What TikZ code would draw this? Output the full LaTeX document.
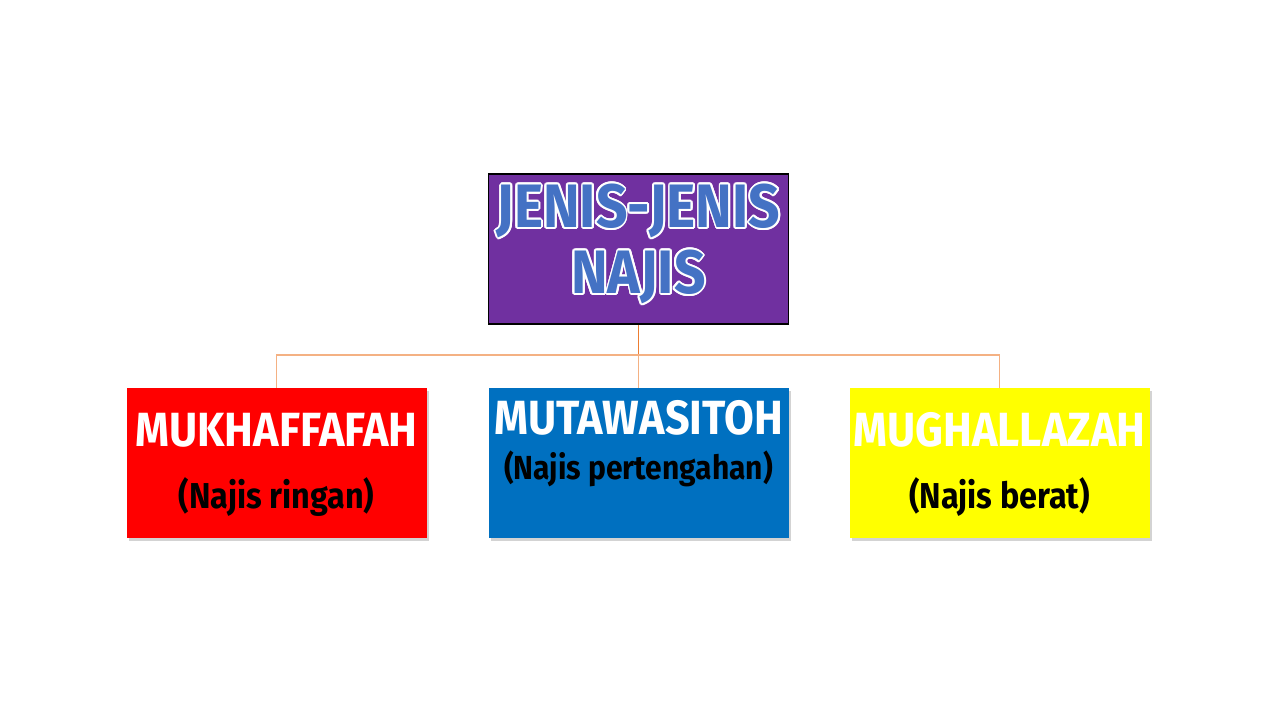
\documentclass[tikz,border=0pt]{standalone}
\usepackage{fontspec}
\setmainfont{Fira Sans}
\newfontfamily\narrowfont{Fira Sans}[FakeStretch=0.9]
\usepackage[copies]{contour}
\contourlength{1.4pt}
\usetikzlibrary{shadows}

\definecolor{najispurple}{HTML}{7030A0}
\definecolor{najisred}{HTML}{FF0000}
\definecolor{najisblue}{HTML}{0070C0}
\definecolor{najisyellow}{HTML}{FFFF00}
\definecolor{titleblue}{HTML}{4472C4}
\definecolor{linkorange}{HTML}{F4B183}
\definecolor{stemorange}{HTML}{ED7D31}

\begin{document}
\begin{tikzpicture}[
        x=0.75pt, y=-0.75pt,
        plain box/.style={
            minimum width=225pt,
            minimum height=112.5pt,
            inner sep=0pt
        },
        box/.style={
            plain box,
            drop shadow={opacity=0.35, shadow xshift=2pt, shadow yshift=-2pt}
        },
        name text/.style={
            white,
            font=\narrowfont\bfseries\fontsize{36}{40}\selectfont
        },
        sub text/.style={
            black,
            font=\narrowfont\bfseries\fontsize{27}{30}\selectfont
        },
        link/.style={linkorange, line width=0.8pt}
    ]

    \useasboundingbox (0,0) rectangle (1280,720);

    % title
    \node[plain box, fill=najispurple, draw=black, line width=1.2pt]
        (title) at (638.5,249) {};
    \node[
            align=center,
            text=titleblue,
            font=\narrowfont\bfseries\fontsize{46}{49.5}\selectfont
        ]
        (title-text) at (638.5,245)
        {\contour{white}{JENIS-JENIS}\\\contour{white}{NAJIS}};

    % boxes
    \node[box, fill=najisred] (mukh) at (276.5,463) {};
    \node[box, fill=najisblue] (muta) at (638.5,463) {};
    \node[box, fill=najisyellow] (mugh) at (999.5,463) {};

    % labels
    \node[name text] (mukh-name) at (276.5,430) {MUKHAFFAFAH};
    \node[sub text] (mukh-sub) at (276.5,497) {(Najis ringan)};

    \node[name text] (muta-name) at (638.5,418) {MUTAWASITOH};
    \node[sub text, font=\narrowfont\bfseries\fontsize{25}{28}\selectfont]
        (muta-sub) at (638.5,469) {(Najis pertengahan)};

    \node[name text] (mugh-name) at (999.5,430) {MUGHALLAZAH};
    \node[sub text] (mugh-sub) at (999.5,497) {(Najis berat)};

    % connectors
    \coordinate (split) at (638.5,355);
    \draw[stemorange, line width=0.8pt]
        (title.south) --
        (split);
    \draw[link]
        (mukh.north) |-
        (split) -|
        (mugh.north);
    \draw[link]
        (split) --
        (muta.north);

\end{tikzpicture}
\end{document}
